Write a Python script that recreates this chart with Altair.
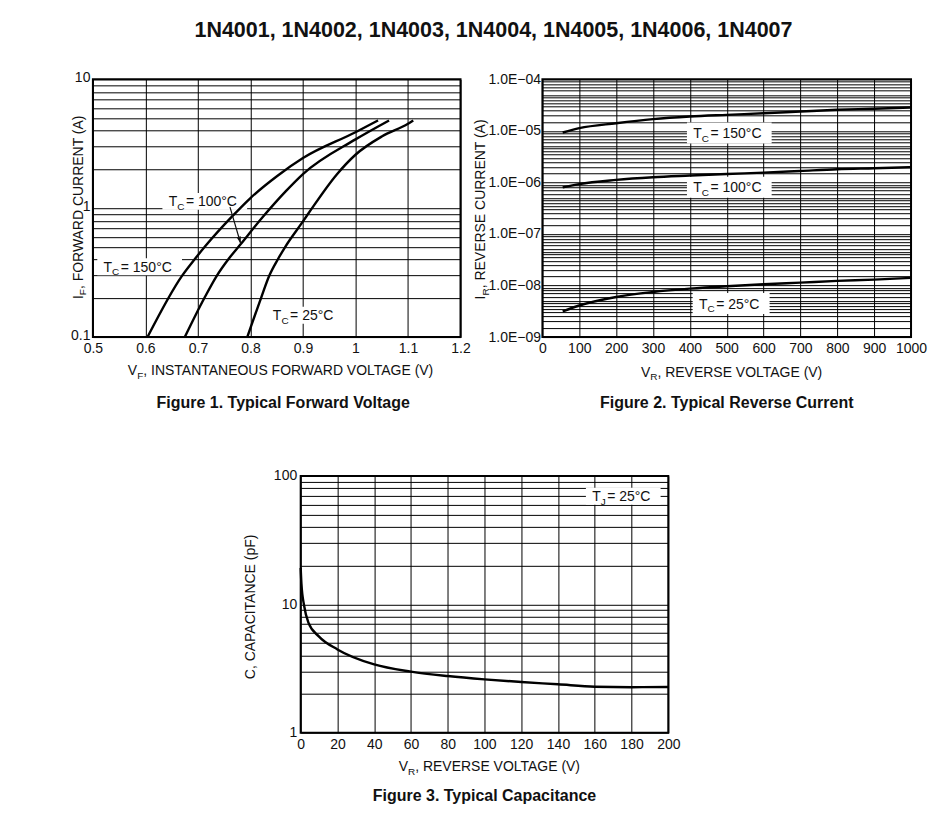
import json
import altair as alt
import pandas as pd

# ---------------- values ----------------
chart_title = "1N4001, 1N4002, 1N4003, 1N4004, 1N4005, 1N4006, 1N4007"
captions = ["Figure 1. Typical Forward Voltage",
            "Figure 2. Typical Reverse Current",
            "Figure 3. Typical Capacitance"]

# Figure 1: instantaneous forward voltage (V) -> forward current (A)
f1_v150 = [0.604, 0.670, 0.693, 0.715, 0.766, 0.80, 0.851, 0.90, 1.0, 1.043]
f1_i150 = [0.1, 0.3, 0.398, 0.513, 0.871, 1.2, 1.78, 2.45, 3.89, 4.8]
f1_v100 = [0.675, 0.712, 0.735, 0.759, 0.782, 0.823, 0.867, 0.90, 1.0, 1.064]
f1_i100 = [0.1, 0.2, 0.295, 0.407, 0.53, 0.85, 1.35, 1.84, 3.42, 4.8]
f1_v25 = [0.794, 0.820, 0.836, 0.852, 0.866, 0.90, 0.915, 0.964, 1.0, 1.05, 1.1, 1.11]
f1_i25 = [0.1, 0.2, 0.3, 0.4, 0.5, 0.79, 0.97, 1.82, 2.6, 3.6, 4.52, 4.8]
f1_x_ticks = [0.5, 0.6, 0.7, 0.8, 0.9, 1.0, 1.1, 1.2]
f1_x_labels = ["0.5", "0.6", "0.7", "0.8", "0.9", "1", "1.1", "1.2"]
f1_y_decades = [0.1, 1, 10]
f1_y_labels = ["0.1", "1", "10"]
f1_note_temp = ["150", "100", "25"]
f1_note_v = [0.589, 0.713, 0.904]
f1_note_i = [0.351, 1.13, 0.148]
f1_arrow_v = [0.761, 0.7815]
f1_arrow_i = [1.02, 0.53]

# Figure 2: reverse voltage (V) -> reverse current (A)
f2_v = [55, 100, 200, 300, 400, 500, 600, 700, 800, 900, 1000]
f2_i150 = [9.3e-6, 1.13e-5, 1.41e-5, 1.69e-5, 1.9e-5, 2.05e-5, 2.2e-5, 2.38e-5, 2.57e-5, 2.69e-5, 2.85e-5]
f2_i100 = [8.0e-7, 9.3e-7, 1.12e-6, 1.26e-6, 1.36e-6, 1.46e-6, 1.55e-6, 1.67e-6, 1.8e-6, 1.88e-6, 1.97e-6]
f2_i25 = [3.16e-9, 4.1e-9, 6.0e-9, 7.5e-9, 8.7e-9, 9.7e-9, 1.06e-8, 1.14e-8, 1.23e-8, 1.3e-8, 1.41e-8]
f2_x_ticks = [0, 100, 200, 300, 400, 500, 600, 700, 800, 900, 1000]
f2_x_labels = ["0", "100", "200", "300", "400", "500", "600", "700", "800", "900", "1000"]
f2_y_decades = [1e-9, 1e-8, 1e-7, 1e-6, 1e-5, 1e-4]
f2_y_labels = ["1.0E\u221209", "1.0E\u221208", "1.0E\u221207", "1.0E\u221206", "1.0E\u221205", "1.0E\u221204"]
f2_note_temp = ["150", "100", "25"]
f2_note_v = [507, 507, 512]
f2_note_i = [9.1e-6, 8.1e-7, 4.47e-9]

# Figure 3: reverse voltage (V) -> capacitance (pF)
f3_v = [0, 0.4, 1.9, 4.2, 10, 20, 40, 60, 80, 100, 120, 140, 160, 180, 200]
f3_c = [19.2, 14.5, 9.7, 7.2, 5.6, 4.45, 3.4, 2.99, 2.76, 2.6, 2.48, 2.38, 2.28, 2.26, 2.27]
f3_x_ticks = [0, 20, 40, 60, 80, 100, 120, 140, 160, 180, 200]
f3_x_labels = ["0", "20", "40", "60", "80", "100", "120", "140", "160", "180", "200"]
f3_y_decades = [1, 10, 100]
f3_y_labels = ["1", "10", "100"]
f3_note_temp = ["25"]
f3_note_v = [175.5]
f3_note_c = [69.5]

# gridline multipliers inside each decade
grid_mult_std = [1, 2, 3, 4, 5, 6, 7, 8, 9]
grid_mult_dense = [1, 1.5, 2, 2.5, 3, 3.5, 4, 4.5, 5, 6, 7, 8, 9]

# ---------------- styling ----------------
FONT = "Liberation Sans"
INK = "#111111"
LBL = 14
SUB = 10
NB = "\u00a0"

# Arial / Liberation Sans advance widths (1/1000 em)
AW = {" ": 278, NB: 278, ",": 278, "(": 333, ")": 333, "=": 584, "\u00b0": 400, ".": 278,
      "A": 667, "B": 667, "C": 722, "D": 722, "E": 667, "F": 611, "G": 778, "H": 722,
      "I": 278, "J": 500, "K": 667, "L": 556, "M": 833, "N": 722, "O": 778, "P": 667,
      "Q": 778, "R": 722, "S": 667, "T": 611, "U": 722, "V": 667, "W": 944, "X": 667,
      "Y": 667, "Z": 611, "p": 556}


def tw(s, size):
    return sum(AW.get(c, 556) for c in s) * size / 1000.0


def log_grid(decades, mults):
    vals = []
    for d in decades[:-1]:
        vals.append(d)
        for m in mults[1:]:
            vals.append(float("%.6g" % (m * d)))
    vals.append(decades[-1])
    return vals


def lookup(values, labels):
    v = json.dumps(values)
    l = json.dumps(labels, ensure_ascii=False)
    return f"indexof({v}, datum.value) >= 0 ? {l}[indexof({v}, datum.value)] : ''"


def axis(values, labeled, labels, pad, offset=0):
    return alt.Axis(values=values, labelExpr=lookup(labeled, labels), title=None,
                    grid=True, gridColor="#000000", gridWidth=1, gridOpacity=1,
                    ticks=False, domain=False, labelFlush=False, labelOverlap=False,
                    labelPadding=pad, labelOffset=offset, labelFont=FONT,
                    labelFontSize=LBL, labelColor=INK)


ONE = pd.DataFrame({"k": [0]})


def rich(parts, xe, ye, src, angle=0, base_dy=0.0, size=LBL, sub=SUB, drop=3.5, gap=0.0):
    widths = [tw(p, sub if s else size) for p, s in parts]
    off = -(sum(widths) + gap) / 2.0
    out = []
    for (p, s), w in zip(parts, widths):
        kw = dict(text=p, align="left", baseline="alphabetic", dx=off,
                  dy=base_dy + (drop if s else 0), fontSize=sub if s else size,
                  font=FONT, color=INK)
        if angle:
            kw["angle"] = angle
        out.append(alt.Chart(src).mark_text(**kw).encode(x=xe, y=ye))
        off += w + (gap if s else 0)
    return out


def make_enc(xdom, ydom, xaxis, yaxis):
    def xe(field="x"):
        return alt.X(f"{field}:Q", scale=alt.Scale(domain=xdom, nice=False, zero=False), axis=xaxis)

    def ye(field="y"):
        return alt.Y(f"{field}:Q", scale=alt.Scale(type="log", domain=ydom, nice=False), axis=yaxis)
    return xe, ye


def notes(xs, ys, temps, subch, xe, ye, box_h=18):
    boxes, texts = [], []
    for x, y, t in zip(xs, ys, temps):
        src = pd.DataFrame({"x": [x], "y": [y]})
        parts = [("T", False), (subch, True), (NB + "=" + NB + t + "\u00b0C", False)]
        width = sum(tw(p, SUB if s else LBL) for p, s in parts) + 14
        boxes.append(alt.Chart(src).mark_rect(color="white", width=width, height=box_h)
                     .encode(x=xe(), y=ye()))
        texts += rich(parts, xe(), ye(), src, base_dy=5, gap=1.5)
    return boxes, texts


def pix_text(text, x, y, size, bold=False):
    kw = dict(text=text, align="center", baseline="alphabetic", fontSize=size,
              font=FONT, color=INK)
    if bold:
        kw["fontWeight"] = "bold"
    return alt.Chart(ONE).mark_text(**kw).encode(x=alt.value(x), y=alt.value(y))


def curves(xs_list, ys_list, names, xe, ye):
    rows = []
    for xs, ys, n in zip(xs_list, ys_list, names):
        rows += [{"x": a, "y": b, "s": n} for a, b in zip(xs, ys)]
    return alt.Chart(pd.DataFrame(rows)).mark_line(
        interpolate="monotone", color="black", strokeWidth=2.4).encode(
        x=xe(), y=ye(), detail="s:N")


# ---------------- Figure 1 ----------------
W1, H1 = 368, 258
x1, y1 = make_enc([0.5, 1.2], [0.1, 10],
                  axis(f1_x_ticks, f1_x_ticks, f1_x_labels, 4),
                  axis(log_grid(f1_y_decades, grid_mult_std), f1_y_decades, f1_y_labels, 3, -2))
f1_lines = curves([f1_v150, f1_v100, f1_v25], [f1_i150, f1_i100, f1_i25], f1_note_temp, x1, y1)
f1_boxes, f1_texts = notes(f1_note_v, f1_note_i, f1_note_temp, "C", x1, y1, box_h=17)
arrow_df = pd.DataFrame({"x": [f1_arrow_v[0]], "y": [f1_arrow_i[0]],
                         "x2": [f1_arrow_v[1]], "y2": [f1_arrow_i[1]]})
f1_arrow = alt.Chart(arrow_df).mark_rule(color=INK, strokeWidth=1.2).encode(
    x=x1(), y=y1(), x2="x2:Q", y2="y2:Q")
f1_head = alt.Chart(arrow_df).mark_point(shape="M0,0L-0.3,-1L0.3,-1Z", filled=True, size=200,
                                         angle=344, color=INK, opacity=1, strokeWidth=0).encode(
    x=x1("x2"), y=y1("y2"))
f1_ytitle = rich([("I", False), ("F", True), (", FORWARD CURRENT (A)", False)],
                 alt.value(-10), alt.value(127.5), ONE, angle=270)
f1_xtitle = rich([("V", False), ("F", True), (", INSTANTANEOUS FORWARD VOLTAGE (V)", False)],
                 alt.value(190.5), alt.value(296), ONE)
anchor = alt.Chart(ONE).mark_square(size=1, color="white", opacity=1).encode(
    x=alt.value(-83), y=alt.value(-69))
fig1 = alt.layer(
    *f1_boxes, f1_lines, f1_arrow, f1_head, *f1_texts, *f1_ytitle, *f1_xtitle,
    pix_text(captions[0], 190.5, 329.3, 16, bold=True),
    pix_text(chart_title, 401, -42, 21.5, bold=True),
    anchor,
).properties(width=W1, height=H1)

# ---------------- Figure 2 ----------------
W2 = 369
x2, y2 = make_enc([0, 1000], [1e-9, 1e-4],
                  axis(f2_x_ticks, f2_x_ticks, f2_x_labels, 4),
                  axis(log_grid(f2_y_decades, grid_mult_dense), f2_y_decades, f2_y_labels, 2))
f2_lines = curves([f2_v, f2_v, f2_v], [f2_i150, f2_i100, f2_i25], f2_note_temp, x2, y2)
f2_boxes, f2_texts = notes(f2_note_v, f2_note_i, f2_note_temp, "C", x2, y2, box_h=21)
f2_ytitle = rich([("I", False), ("R", True), (", REVERSE CURRENT (A)", False)],
                 alt.value(-57), alt.value(130), ONE, angle=270)
f2_xtitle = rich([("V", False), ("R", True), (", REVERSE VOLTAGE (V)", False)],
                 alt.value(190.5), alt.value(297.7), ONE)
fig2 = alt.layer(
    *f2_boxes, f2_lines, *f2_texts, *f2_ytitle, *f2_xtitle,
    pix_text(captions[1], 184.5, 329.3, 16, bold=True),
).properties(width=W2, height=H1)

# ---------------- Figure 3 ----------------
W3, H3 = 368, 257
x3, y3 = make_enc([0, 200], [1, 100],
                  axis(f3_x_ticks, f3_x_ticks, f3_x_labels, 5),
                  axis(log_grid(f3_y_decades, grid_mult_std), f3_y_decades, f3_y_labels, 4))
f3_lines = curves([f3_v], [f3_c], ["c"], x3, y3)
f3_boxes, f3_texts = notes(f3_note_v, f3_note_c, f3_note_temp, "J", x3, y3, box_h=17)
f3_ytitle = rich([("C, CAPACITANCE (pF)", False)], alt.value(-46), alt.value(130), ONE, angle=270)
f3_xtitle = rich([("V", False), ("R", True), (", REVERSE VOLTAGE (V)", False)],
                 alt.value(190), alt.value(295.7), ONE)
fig3 = alt.layer(
    *f3_boxes, f3_lines, *f3_texts, *f3_ytitle, *f3_xtitle,
    pix_text(captions[2], 184, 325.7, 16, bold=True),
).properties(width=W3, height=H3)

spacer = alt.Chart(ONE).mark_point(opacity=0).encode(
    x=alt.value(0), y=alt.value(0)).properties(
    width=8, height=8, view=alt.ViewBackground(strokeOpacity=0, fillOpacity=0))

row1 = alt.hconcat(fig1, fig2, spacing=82, bounds="flush")
row2 = alt.hconcat(spacer, fig3, spacing=200, bounds="flush")
chart = alt.vconcat(row1, row2, spacing=H1 + 139, bounds="flush").properties(
    padding={"left": 0, "top": 0, "right": 0, "bottom": 0}
).configure_view(stroke="black", strokeWidth=2)

chart.save("out.html", embed_options={"renderer": "svg", "actions": False})
